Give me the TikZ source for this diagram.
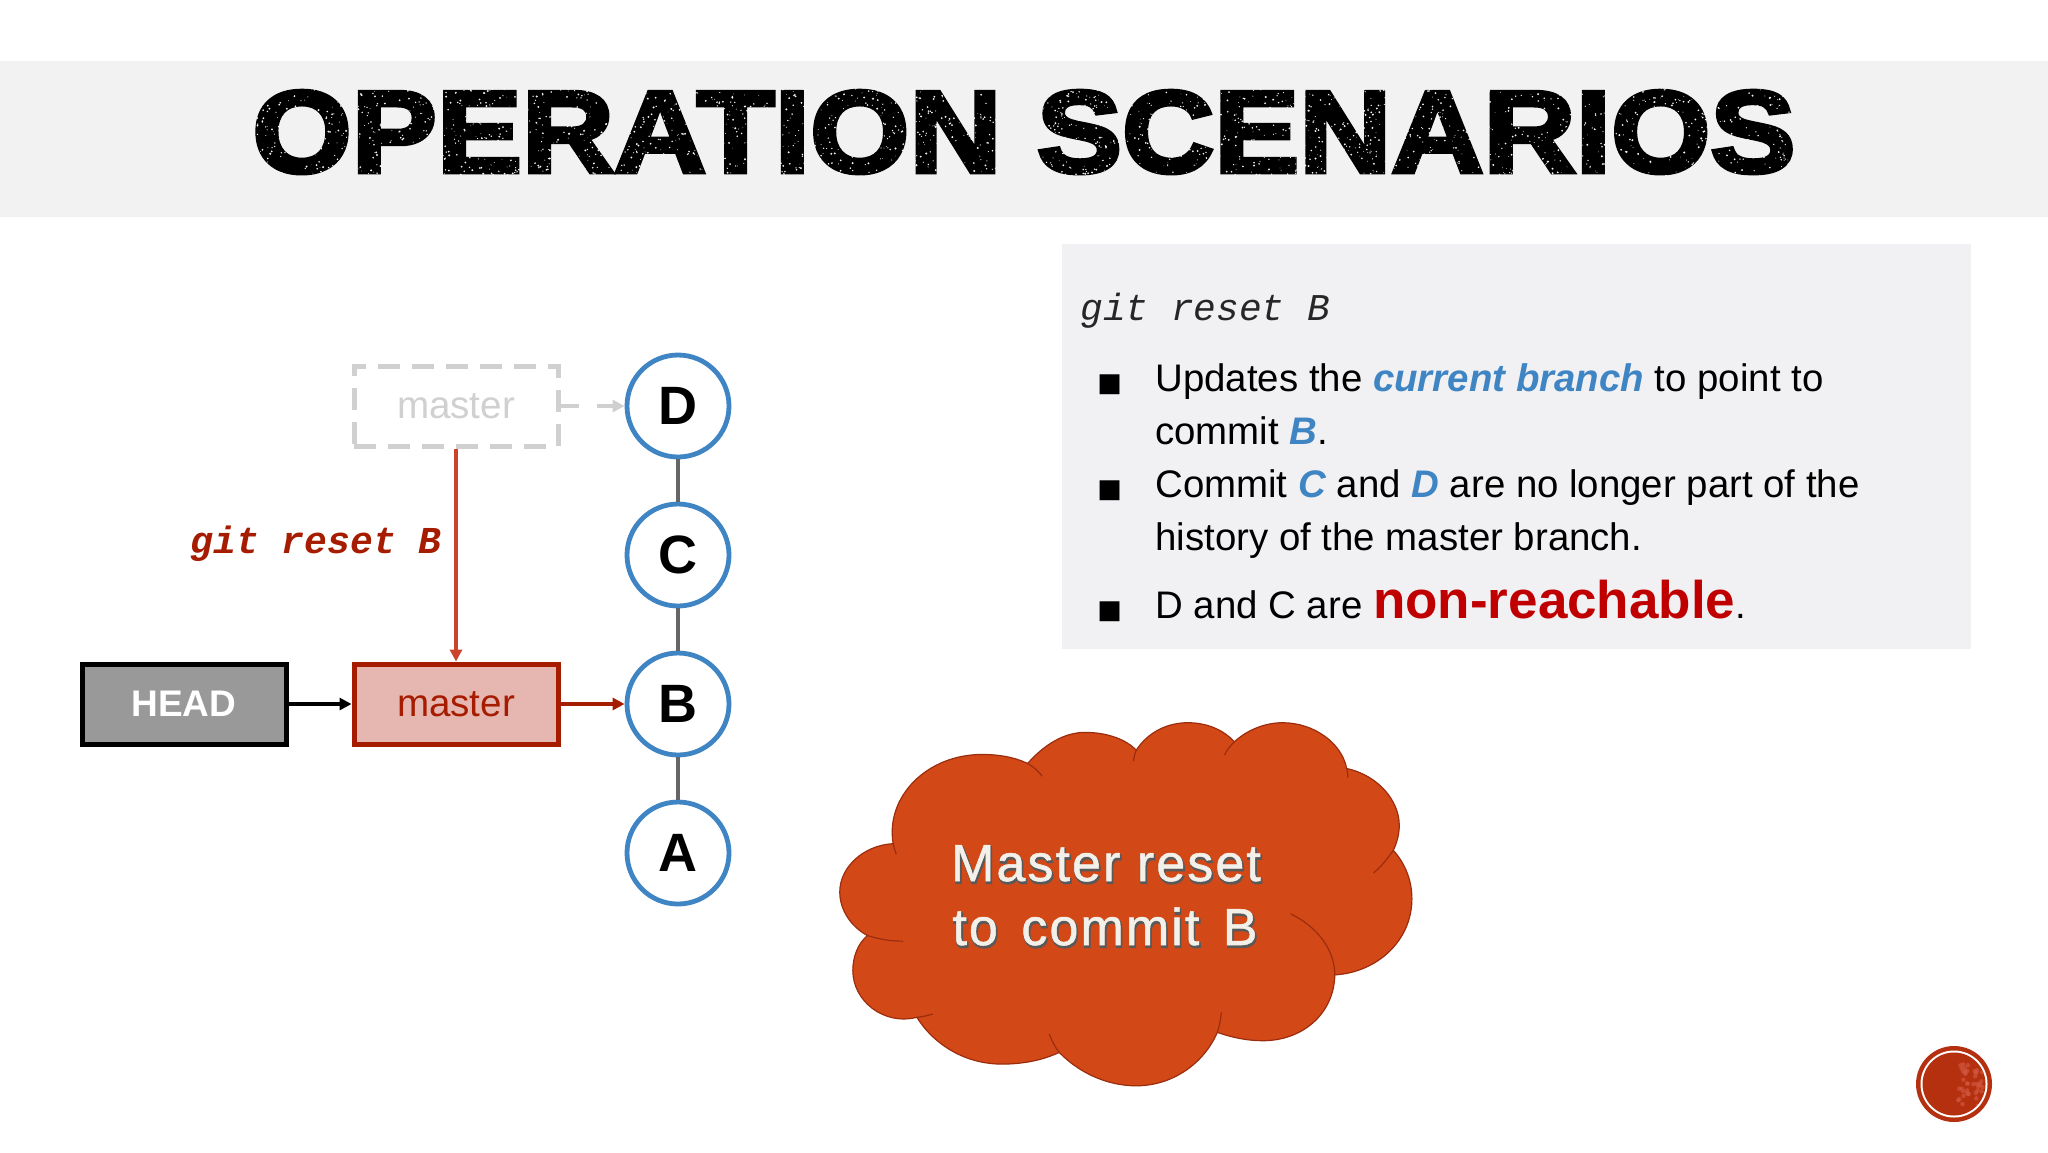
\documentclass[tikz,border=0pt]{standalone}
\usepackage{fontspec}
\setmainfont{Liberation Sans}
\setmonofont{Liberation Mono}
\newfontfamily\titlefont[FakeBold=4,FakeStretch=1.1]{Liberation Sans Bold}
\newfontfamily\symfont{DejaVu Sans}
\newfontfamily\cloudfont[LetterSpace=4,FakeBold=1]{Liberation Sans}
\newfontfamily\cloudshadow[LetterSpace=4,FakeBold=4]{Liberation Sans}
\usetikzlibrary{arrows.meta}
\definecolor{band}{HTML}{F2F2F2}
\definecolor{panel}{HTML}{F1F1F3}
\definecolor{rust}{HTML}{A51C00}
\definecolor{rustlight}{HTML}{CB432A}
\definecolor{pink}{HTML}{E6B7B0}
\definecolor{commitblue}{HTML}{3F85C4}
\definecolor{keyred}{HTML}{C00000}
\definecolor{ghostgrey}{HTML}{D0D0D0}
\definecolor{cloudfill}{HTML}{D34817}
\definecolor{cloudline}{HTML}{9B2D0F}
\definecolor{cloudtext}{HTML}{F3F0EA}
\definecolor{badge}{HTML}{B5300F}
\begin{document}
\begin{tikzpicture}[x=0.5pt,y=-0.5pt,
  box/.style={draw,line width=2.5pt,minimum width=102pt,minimum height=40pt,inner sep=0pt,font=\fontsize{19.3}{23}\selectfont},
  commit/.style={circle,draw=commitblue,line width=2.4pt,fill=white,minimum size=51pt,inner sep=0pt,font=\bfseries\fontsize{27}{32}\selectfont},
  edge/.style={draw=black!60,line width=2.4pt},
  tip/.style={-{Triangle[length=6pt,width=6pt]},line width=1.8pt},
  line/.style={anchor=base west,inner sep=0pt,font=\fontsize{19.2}{23}\selectfont},
  bul/.style={anchor=base west,inner sep=0pt,font=\symfont\fontsize{13}{16}\selectfont},
  cloudlbl/.style={anchor=base,inner sep=0pt,font=\cloudfont\fontsize{26}{30}\selectfont},
  cloudsh/.style={anchor=base,inner sep=0pt,text=black!65,font=\cloudshadow\fontsize{26}{30}\selectfont}]
\useasboundingbox (0,0) rectangle (2048,1152);
\fill[white] (0,0) rectangle (2048,1152);
% title band
\fill[band] (0,61) rectangle (2048,217);
\node[anchor=base,inner sep=0pt,font=\titlefont\fontsize{58}{70}\selectfont] (title) at (1024,172) {OPERATION SCENARIOS};
\pgfmathsetseed{7}
\foreach \i in {1,...,3000}{
  \pgfmathsetmacro{\px}{250+rnd*1550}
  \pgfmathsetmacro{\py}{84+rnd*94}
  \pgfmathsetmacro{\pr}{0.35+rnd*0.75}
  \fill[band] (\px,\py) circle[radius=\pr];
}
% panel
\fill[panel] (1062,244) rectangle (1971,649);
\node[line,font=\ttfamily\itshape\fontsize{18.9}{23}\selectfont,text=black!85] (cmd) at (1080,320) {git reset B};
\node[bul] (b1) at (1097,391) {■};
\node[line] (l1) at (1155,391) {Updates the \textcolor{commitblue}{\bfseries\itshape current branch} to point to};
\node[line] (l2) at (1155,444) {commit \textcolor{commitblue}{\bfseries\itshape B}.};
\node[bul] (b2) at (1097,497) {■};
\node[line] (l3) at (1155,497) {Commit \textcolor{commitblue}{\bfseries\itshape C} and \textcolor{commitblue}{\bfseries\itshape D} are no longer part of the};
\node[line] (l4) at (1155,550) {history of the master branch.};
\node[bul] (b3) at (1097,618) {■};
\node[line] (l5) at (1155,618) {D and C are \textcolor{keyred}{\bfseries\fontsize{26.5}{30}\selectfont non-reachable}.};
% commits
\node[commit] (D) at (678,406) {\raisebox{-0.7pt}{D}};
\node[commit] (C) at (678,555) {\raisebox{-0.7pt}{C}};
\node[commit] (B) at (678,704) {\raisebox{-0.7pt}{B}};
\node[commit] (A) at (678,853) {\raisebox{-0.7pt}{A}};
\draw[edge] (D) -- (C);
\draw[edge] (C) -- (B);
\draw[edge] (B) -- (A);
% boxes
\node[box,draw=black,fill=black!40!white,text=white,font=\bfseries\fontsize{18.5}{23}\selectfont] (head) at (184,704) {HEAD};
\node[box,draw=rust,fill=pink,text=rust] (master) at (456,704) {master};
\node[box,draw=ghostgrey,dashed,dash pattern=on 11pt off 6pt,text=ghostgrey] (ghost) at (456,406) {\raisebox{-0.5pt}{master}};
\draw[tip,black] (head) -- (master);
\draw[tip,rust] (master) -- (B);
\draw[tip,rustlight] (ghost) -- (master);
\draw[tip,ghostgrey,dash pattern=on 9pt off 9pt] (ghost) -- (D);
\node[anchor=base east,inner sep=0pt,font=\ttfamily\bfseries\itshape\fontsize{19}{23}\selectfont,text=rust] (cmdlabel) at (442,553) {git reset B};
% cloud
\begin{scope}[shift={(820,700)},x=0.1977pt,y=-0.167pt]
\filldraw[fill=cloudfill,draw=cloudline,line width=0.6pt]
 (185,430) .. controls (165,290) and (270,163) .. (410,163) .. controls (450,163) and (490,170) .. (525,190)
 .. controls (570,130) and (620,97) .. (670,97) .. controls (730,97) and (775,120) .. (800,150)
 .. controls (830,95) and (880,68) .. (930,68) .. controls (985,68) and (1025,95) .. (1048,125)
 .. controls (1080,90) and (1125,68) .. (1170,68) .. controls (1250,68) and (1320,130) .. (1332,205)
 .. controls (1410,225) and (1465,300) .. (1465,375) .. controls (1465,400) and (1460,425) .. (1450,450)
 .. controls (1480,490) and (1497,540) .. (1497,595) .. controls (1497,720) and (1410,815) .. (1302,823)
 .. controls (1300,940) and (1220,1020) .. (1120,1020) .. controls (1080,1020) and (1040,1010) .. (1005,995)
 .. controls (970,1090) and (890,1155) .. (800,1155) .. controls (720,1155) and (650,1110) .. (605,1055)
 .. controls (560,1080) and (510,1090) .. (460,1090) .. controls (370,1090) and (290,1035) .. (245,950)
 .. controls (160,975) and (83,900) .. (83,810) .. controls (83,770) and (95,730) .. (120,705)
 .. controls (80,680) and (50,630) .. (50,575) .. controls (50,500) and (110,435) .. (185,430) -- cycle;
\draw[cloudline,line width=0.6pt]
 (525,190) .. controls (540,200) and (552,213) .. (562,228)
 (800,150) .. controls (796,160) and (794,172) .. (793,183)
 (1048,125) .. controls (1037,138) and (1029,150) .. (1023,165)
 (1332,205) .. controls (1334,214) and (1335,223) .. (1335,232)
 (1450,450) .. controls (1435,475) and (1420,498) .. (1400,518)
 (1190,640) .. controls (1260,680) and (1302,750) .. (1302,823)
 (1005,995) .. controls (1010,975) and (1014,955) .. (1015,935)
 (605,1055) .. controls (595,1040) and (586,1020) .. (580,1000)
 (245,950) .. controls (260,948) and (272,945) .. (285,940)
 (120,705) .. controls (148,716) and (178,722) .. (210,722)
 (185,430) .. controls (187,442) and (190,452) .. (193,462);
\end{scope}
\node[cloudsh] (c1s) at (1107,883) {Master reset};
\node[cloudsh] (c2s) at (1106,947) {to\hspace{3.5pt} commit\hspace{3.5pt} B};
\node[cloudlbl,text=cloudtext] (c1) at (1106,881) {Master reset};
\node[cloudlbl,text=cloudtext] (c2) at (1105,945) {to\hspace{3.5pt} commit\hspace{3.5pt} B};
% page badge
\fill[badge] (1954,1084) circle[radius=38];
\fill[white] (1954,1084) circle[radius=33.5];
\fill[badge] (1954,1084) circle[radius=31.5];
\begin{scope}
\clip (1954,1084) circle[radius=31.5];
\pgfmathsetseed{11}
\foreach \i in {1,...,45}{
  \pgfmathsetmacro{\px}{1958+rnd*30}
  \pgfmathsetmacro{\py}{1062+rnd*46}
  \fill[rustlight!90!white,opacity=0.7] (\px,\py) circle[radius=2.2];
}
\end{scope}
\end{tikzpicture}
\end{document}
